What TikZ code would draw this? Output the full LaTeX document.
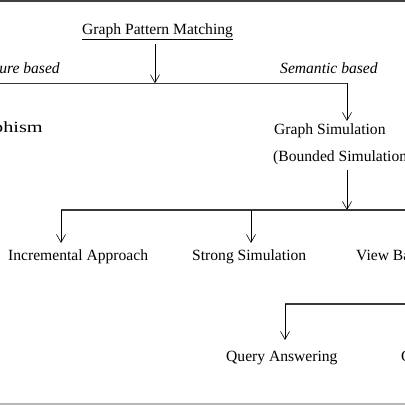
\documentclass[tikz,border=0pt]{standalone}
\usepackage{fontspec}
\setmainfont{Liberation Serif}
\usetikzlibrary{arrows.meta}
\begin{document}
\begin{tikzpicture}[x=1pt,y=-1pt,
  lbl/.style={font=\fontsize{15.6}{18}\selectfont, inner sep=0pt, anchor=base west},
  itl/.style={lbl, font=\fontsize{15.6}{18}\selectfont\itshape},
  bar/.style={line width=1.2pt, draw=black!78},
  arr/.style={line width=0.6pt, draw=black, -{Straight Barb[length=8pt,width=9pt]}}]
\useasboundingbox (0,0) rectangle (405,405);
\clip (0,0) rectangle (405,405);
\fill[black!75] (0,0) rectangle (405,2.3);
\fill[black!28] (0,402.7) rectangle (405,405);
% level 0
\node[lbl] (gpm) at (82,34) {\underline{Graph Pattern Matching}};
\coordinate (a0) at (155,44);
\coordinate (j1) at (155,83.3);
\coordinate (l1) at (-5,83.3);
\coordinate (r1) at (347,83.3);
\draw[arr] (a0) -- (j1);
\draw[bar] (l1) -- (r1);
\node[itl, anchor=base east] (sb) at (60,73) {Structure based};
\node[itl] (seb) at (280,73) {Semantic based};
% level 1
\node[lbl, anchor=base east, xscale=1.3] (iso) at (43,132) {Subgraph Isomorphism};
\node[lbl] (gs) at (274,134) {Graph Simulation};
\node[lbl] (bs) at (273,161) {(Bounded Simulation)};
\coordinate (e1) at (347,121);
\draw[arr] (r1) -- (e1);
% level 2
\coordinate (a2) at (347,170);
\coordinate (j2) at (347,210);
\coordinate (l2) at (61,210);
\coordinate (m2) at (251,210);
\coordinate (r2) at (420,210);
\draw[arr] (a2) -- (j2);
\draw[bar] (l2) -- (r2);
\node[lbl] (ia) at (8,260) {Incremental Approach};
\node[lbl] (ss) at (192,260) {Strong Simulation};
\node[lbl] (vb) at (356,260) {View Based};
\coordinate (e2a) at (61,243);
\coordinate (e2b) at (251,243);
\draw[arr] (l2) -- (e2a);
\draw[arr] (m2) -- (e2b);
% level 3
\coordinate (l3) at (285,304);
\coordinate (r3) at (420,304);
\coordinate (e3) at (285,340);
\draw[bar] (l3) -- (r3);
\draw[arr] (l3) -- (e3);
\node[lbl] (qa) at (226,361) {Query Answering};
\node[lbl] (gc) at (401,361) {Compression};
\end{tikzpicture}
\end{document}
